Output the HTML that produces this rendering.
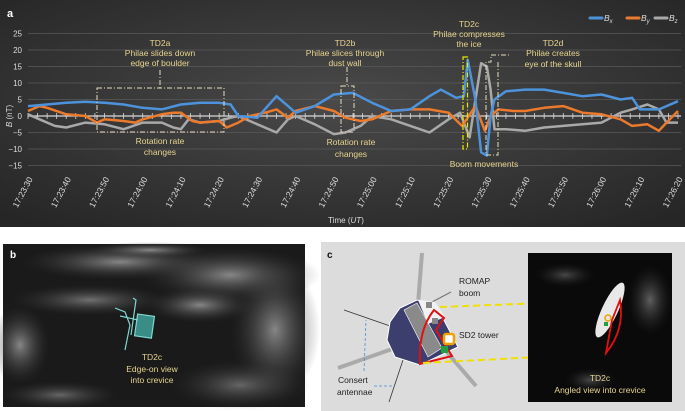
<!DOCTYPE html>
<html><head><meta charset="utf-8"><style>
html,body{margin:0;padding:0;background:#fff;}
svg{display:block;font-family:"Liberation Sans",sans-serif;}
</style></head><body>
<svg id="fig" width="685" height="411" viewBox="0 0 685 411">
<defs>
<radialGradient id="bgA" cx="0.5" cy="0.45" r="0.7"><stop offset="0" stop-color="#4a4a4a"/><stop offset="1" stop-color="#262626"/></radialGradient>
<radialGradient id="rock1" cx="0.5" cy="0.5" r="0.5"><stop offset="0" stop-color="#9a9a9a" stop-opacity="0.85"/><stop offset="1" stop-color="#303030" stop-opacity="0"/></radialGradient>
</defs>
<g>
<rect x="0" y="0" width="685" height="227" fill="url(#bgA)"/>
<text x="7" y="17" fill="#fff" font-size="11" font-weight="bold">a</text>
<g id="grid"></g>
<g id="yticks"></g>
<g id="xticks"></g>
<text transform="translate(12,116) rotate(-90)" fill="#ddd" font-size="8" text-anchor="middle"><tspan font-style="italic">B</tspan> (nT)</text>
<text x="346" y="223" fill="#ddd" font-size="8" text-anchor="middle">Time (<tspan font-style="italic">UT</tspan>)</text>
<g id="series"></g>
<g fill="none" stroke="#e6dcc0" stroke-width="1" stroke-dasharray="5,2,1,2">
<rect x="97" y="88" width="127" height="44"/>
<line x1="160" y1="70" x2="160" y2="88"/>
<rect x="341" y="86" width="13" height="46"/>
<line x1="347" y1="67" x2="347" y2="86"/>
<path d="M498 62 L498 155 L486 155 L486 62 L491 62 L491 55 L510 55"/>
</g>
<rect x="463" y="57" width="4.5" height="92" fill="none" stroke="#e8e800" stroke-width="1.2" stroke-dasharray="5,2,1,2"/>
<g fill="#e8d48f" font-size="8.5" text-anchor="middle">
<text x="160" y="46">TD2a</text><text x="160" y="56">Philae slides down</text><text x="160" y="66">edge of boulder</text>
<text x="345" y="46">TD2b</text><text x="345" y="56">Philae slices through</text><text x="345" y="66">dust wall</text>
<text x="469" y="27">TD2c</text><text x="469" y="37">Philae compresses</text><text x="469" y="47">the ice</text>
<text x="553" y="46">TD2d</text><text x="553" y="56">Philae creates</text><text x="553" y="67">eye of the skull</text>
<text x="160" y="144">Rotation rate</text><text x="160" y="155">changes</text>
<text x="351" y="145">Rotation rate</text><text x="351" y="157">changes</text>
<text x="484" y="167">Boom movements</text>
</g>
<g id="legend"></g>
</g>
<g>
<rect x="3" y="244" width="302" height="163" fill="#1a1a1a"/>
<g>
<ellipse cx="120" cy="262" rx="100" ry="18" fill="url(#rock1)"/>
<ellipse cx="230" cy="275" rx="90" ry="28" fill="url(#rock1)"/>
<ellipse cx="275" cy="330" rx="45" ry="70" fill="url(#rock1)"/>
<ellipse cx="90" cy="300" rx="80" ry="16" fill="url(#rock1)" opacity="0.8"/>
<ellipse cx="200" cy="305" rx="55" ry="18" fill="url(#rock1)"/>
<ellipse cx="20" cy="345" rx="30" ry="40" fill="url(#rock1)"/>
<ellipse cx="240" cy="385" rx="70" ry="25" fill="url(#rock1)" opacity="0.7"/>
<ellipse cx="60" cy="395" rx="60" ry="14" fill="url(#rock1)" opacity="0.7"/>
<ellipse cx="150" cy="250" rx="60" ry="8" fill="url(#rock1)"/>
</g>
<g fill="none" stroke="#7fd8d0" stroke-width="1.2">
<rect x="136" y="315" width="17" height="22" fill="#3a8c86" transform="rotate(8 144 326)"/>
<path d="M115 308 L125 312 L130 325 L125 350 M133 298 L136 300 L131 335 M120 316 L138 320"/>
</g>
<text x="10" y="258" fill="#fff" font-size="10" font-weight="bold">b</text>
<g fill="#e8d48f" font-size="8.5" text-anchor="middle">
<text x="152" y="360">TD2c</text><text x="152" y="372">Edge-on view</text><text x="152" y="383">into crevice</text>
</g>
</g>
<g>
<rect x="321" y="242" width="364" height="169" fill="#dcdcdc"/>
<text x="327" y="258" fill="#111" font-size="10" font-weight="bold">c</text>
<g>
<line x1="344" y1="310" x2="393" y2="327" stroke="#333" stroke-width="0.8"/>
<line x1="403" y1="360" x2="389" y2="402" stroke="#333" stroke-width="0.8"/>
<line x1="418" y1="304" x2="422" y2="253" stroke="#aaa" stroke-width="4"/>
<line x1="395" y1="348" x2="338" y2="368" stroke="#aaa" stroke-width="4"/>
<line x1="445" y1="350" x2="476" y2="386" stroke="#aaa" stroke-width="4"/>
<line x1="432" y1="302" x2="451" y2="292" stroke="#777" stroke-width="1.2"/>
<polygon points="390,322 400,308 417,300 435,303 458,347 420,365 395,357 387,340" fill="#3c3f6e" stroke="#fff" stroke-width="1"/>
<polygon points="404,310 417,303 442,348 428,357" fill="#8a8a8a" stroke="#fff" stroke-width="0.6"/>
<polygon points="418,300 435,302 445,317 428,324" fill="#f2f2f2"/>
<rect x="426" y="302" width="6" height="6" fill="#888"/>
<rect x="432" y="318" width="6" height="6" fill="#888"/>
<path d="M420 364 Q418 330 434 310 L444 318 L436 330 L452 356 Z" fill="none" stroke="#e01010" stroke-width="2"/>
<rect x="444" y="334" width="10" height="10" rx="2" fill="#fff" stroke="#f0a000" stroke-width="2.5"/>
<rect x="441" y="346" width="7" height="7" fill="#20a040"/>
</g>
<g stroke="#4a8fd6" stroke-width="0.8" stroke-dasharray="3,2" fill="none">
<path d="M364 371 L366 320"/><path d="M374 386 L393 386"/>
</g>
<g stroke="#f0e000" stroke-width="2" stroke-dasharray="7,4">
<line x1="440" y1="307" x2="620" y2="300"/><line x1="423" y1="363" x2="615" y2="353"/>
</g>
<g fill="#222" font-size="8.5">
<text x="459" y="284">ROMAP</text><text x="459" y="296">boom</text>
<text x="459" y="338">SD2 tower</text>
<text x="338" y="383">Consert</text><text x="337" y="395">antennae</text>
</g>
<g>
<rect x="528" y="253" width="144" height="149" fill="#0a0a0a"/>
<ellipse cx="650" cy="300" rx="22" ry="35" fill="url(#rock1)" opacity="0.7"/>
<ellipse cx="610" cy="310" rx="8" ry="30" fill="#e8e8e8" transform="rotate(25 610 310)"/>
<ellipse cx="565" cy="275" rx="30" ry="12" fill="url(#rock1)" opacity="0.5"/>
<ellipse cx="590" cy="380" rx="25" ry="12" fill="url(#rock1)" opacity="0.5"/>
<path d="M620 300 Q625 330 606 353 L612 320 Z" fill="none" stroke="#e01010" stroke-width="1.8"/>
<circle cx="608" cy="318" r="3" fill="none" stroke="#f0a000" stroke-width="1.5"/>
<rect x="604" y="322" width="4" height="4" fill="#20a040"/>
<g fill="#e8d48f" font-size="8.5" text-anchor="middle"><text x="600" y="381">TD2c</text><text x="600" y="393">Angled view into crevice</text></g>
</g>
</g>
</svg>
<script>
const NS="http://www.w3.org/2000/svg";
const yTickValues=[25,20,15,10,5,0,-5,-10,-15];
const xTickLabels=["17:23:30","17:23:40","17:23:50","17:24:00","17:24:10","17:24:20","17:24:30","17:24:40","17:24:50","17:25:00","17:25:10","17:25:20","17:25:30","17:25:40","17:25:50","17:26:00","17:26:10","17:26:20"];
const bxTimes=[0,5,10,15,20,25,30,35,40,45,50,53,55,60,65,68,70,75,80,85,90,95,100,105,108,112,114,115,117,118.5,120,121,122,125,130,135,140,145,150,155,158,160,165,167,170];
const bxValues=[3,3.5,4,4.3,4,3.5,2.5,2,3.5,4,4,3.5,0,-0.5,6,3,1,3,6.5,7,4,1.5,2,6,8,5.5,6,17,5,-11,-12,0,5,7.5,8,8,7,6,6.5,5,5.5,2,2,3,4.5];
const byTimes=[0,3,5,10,15,18,20,25,28,30,35,38,40,43,45,50,52,55,58,62,65,68,70,75,80,83,87,90,95,100,105,110,113.5,115,117,119.5,121,123,127,130,135,140,145,150,155,158,162,165,167,170];
const byValues=[1.5,3,2.5,0.5,0,-2,-1,-1.5,-2,-1,0.5,1,1,-1.5,-2,-1.5,-3.5,-2,0,1,2,-0.5,1.5,3,1.5,-0.5,-1.5,-1,1.5,2,2,1,-3,-0.5,3,-4.5,0,2,1.5,1.5,2.5,3,1,0.5,-1,-3,-2.5,-4.5,-2,1.5];
const bzTimes=[0,3,7,10,15,20,25,30,35,38,40,42,45,50,53,55,60,65,68,70,75,80,83,87,90,95,100,105,110,113,115.5,118.5,120,121,122,125,130,135,140,145,150,155,158,162,165,167,170];
const bzValues=[0.5,-1,-3,-3.5,-2,-2.5,-4,-2,-2,-3.5,-4,-1,-2,-1.5,-0.5,0,-2.5,-5,-1,0,-2.5,-5.5,-5,-3,0,-1,-3,-5,-1,1,-6.5,16,15,8,-4,-4,-4.5,-3.5,-3,-2.5,-2,1,2,3.5,2,-2,-2];
const X0=28,X1=678,T0=0,T1=170,Y0=116,PX=3.3;
function xs(t){return X0+(t-T0)/(T1-T0)*(X1-X0);}
function ys(v){return Y0-v*PX;}
function mk(tag,attrs,parent){const e=document.createElementNS(NS,tag);for(const k in attrs)e.setAttribute(k,attrs[k]);parent.appendChild(e);return e;}
const grid=document.getElementById('grid'),yt=document.getElementById('yticks'),xt=document.getElementById('xticks');
yTickValues.forEach(v=>{
 const l=mk('line',{x1:X0,x2:681,y1:ys(v),y2:ys(v),stroke:v===0?'#d8d8d8':'#5a5a5a','stroke-width':v===0?1.2:0.8},grid);
 
 
 const t=mk('text',{x:22,y:ys(v)+3,fill:'#ddd','font-size':8,'text-anchor':'end'},yt);
 t.textContent=String(v).replace('-','\u2212');
 
 
});
for(let t=0;t<=170;t+=2.5){
 const l=mk('line',{x1:xs(t),x2:xs(t),y1:ys(0)-3,y2:ys(0)+3,stroke:'#d8d8d8','stroke-width':0.8},grid);
 
 
}
xTickLabels.forEach((s,i)=>{
 const x=xs(i*10);
 const t=mk('text',{transform:`translate(${x+5},179) rotate(-62)`,fill:'#ddd','font-size':8.5,'text-anchor':'end'},xt);
 t.textContent=s;
 
 
});
const ser=document.getElementById('series');
function line(times,vals,color,name){
 const d=times.map((t,i)=>(i?'L':'M')+xs(t).toFixed(1)+' '+ys(vals[i]).toFixed(1)).join(' ');
 const p=mk('path',{d:d,fill:'none',stroke:color,'stroke-width':2.5,'stroke-linejoin':'round'},ser);
 
 
}
line(bzTimes,bzValues,'#a9a9a9','series-bz');
line(byTimes,byValues,'#ec7a2c','series-by');
line(bxTimes,bxValues,'#4d93dc','series-bx');
const lg=document.getElementById('legend');
[['#4d93dc','x',590],['#ec7a2c','y',627],['#a9a9a9','z',655]].forEach(([c,s,x])=>{
 const l=mk('line',{x1:x,x2:x+12,y1:18,y2:18,stroke:c,'stroke-width':3,'stroke-linecap':'round'},lg);
 
 
 const t=mk('text',{x:x+14,y:21,fill:'#ddd','font-size':8.5,'font-style':'italic'},lg);
 t.innerHTML='B<tspan font-size="6" dy="2">'+s+'</tspan>';
 
 
});
</script>
</body></html>
